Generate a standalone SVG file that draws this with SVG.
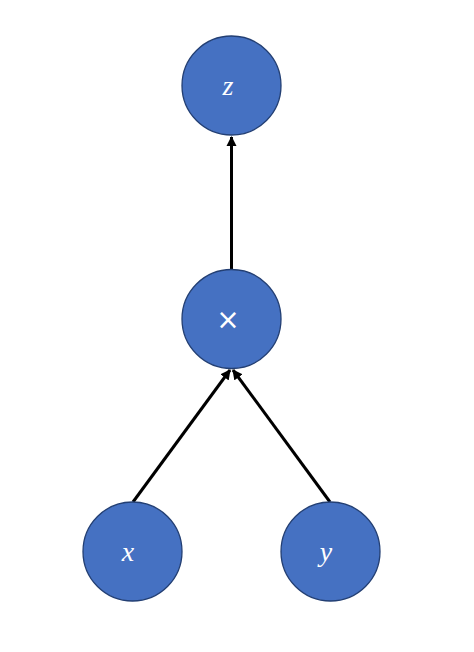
<svg xmlns="http://www.w3.org/2000/svg" width="474" height="652" viewBox="0 0 474 652">
<style>
.node{fill:#4571C2;stroke:#233F73;stroke-width:1.3}
.lbl{fill:#fff;font-family:"Liberation Serif",serif;font-style:italic;font-size:28px;text-anchor:middle}
.op{fill:#fff;font-family:"DejaVu Sans",sans-serif;font-size:28px;text-anchor:middle}
.edge{stroke:#000;stroke-width:3;fill:none;marker-end:url(#ah)}
</style>
<defs>
<marker id="ah" viewBox="0 0 10 10" refX="9" refY="5" markerWidth="3.4" markerHeight="3.4" orient="auto" markerUnits="strokeWidth">
<path d="M0,0 L10,5 L0,10 z" fill="#000"/>
</marker>
</defs>
<rect width="474" height="652" fill="#fff"/>
<g id="connectors">
<line class="edge" x1="231.5" y1="269" x2="231.5" y2="137"/>
<line class="edge" x1="133" y1="502" x2="230" y2="370"/>
<line class="edge" x1="330" y1="502" x2="233" y2="370"/>
</g>
<g id="node-z">
<circle class="node" cx="231.5" cy="85.5" r="49.5"/>
<text class="lbl" x="228" y="95">z</text>
</g>
<g id="node-mul">
<circle class="node" cx="231.5" cy="319" r="49.5"/>
<text class="op" x="228" y="329">×</text>
</g>
<g id="node-x">
<circle class="node" cx="132.5" cy="551.5" r="49.5"/>
<text class="lbl" x="128" y="561">x</text>
</g>
<g id="node-y">
<circle class="node" cx="330.5" cy="551.5" r="49.5"/>
<text class="lbl" x="326" y="561">y</text>
</g>
</svg>
